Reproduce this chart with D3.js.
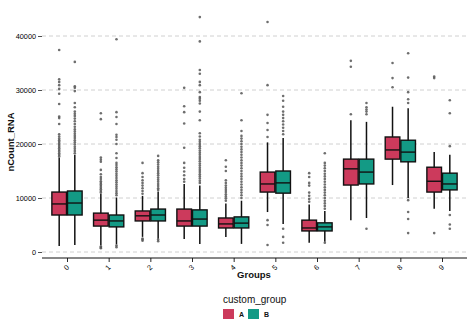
<!DOCTYPE html>
<html>
<head>
<meta charset="utf-8">
<script src="https://cdn.jsdelivr.net/npm/d3@7"></script>
<style>
body{margin:0;background:#fff}
svg{font-family:"Liberation Sans",Arial,sans-serif}
</style>
</head>
<body>
<div id="chart"></div>
<script>
// box stats
var groups = ["0","1","2","3","4","5","6","7","8","9"];
var series = ["A","B"];
var colors = ["#cc3a5c","#139a85"];
var yTicks = [0,10000,20000,30000,40000];

var q1A  = [6850,4800,5750,4800,4450,11100,3900,12400,17200,11100];
var medA = [8900,5900,6700,5750,5200,12600,4450,15400,18900,13100];
var q3A  = [11100,7200,7600,7950,6300,14800,5900,17200,21300,15700];
var loA  = [1100,1200,2800,2400,2800,7400,1700,5900,12400,8000];
var hiA  = [17500,10800,10400,12600,9000,20300,8800,24400,26900,18500];
var outA = [
  [37400,32000,31500,30900,30200,29300,27400,25100,24800,23700,21800,21400,21000,20700,20400,20100,19800,19500,19200,18900,18600,18300,18000,17700],
  [25700,24600,17500,17100,16700,15200,14400,13900,13500,13100,12800,12500,12200,11900,11600,11300,11000,1000,850,700],
  [16500,14600,13900,13300,12800,12300,11800,11300,10800,2500,2300,2100],
  [30400,27000,25900,23800,19300,16500,15600,14900,14200,13500,13000],
  [17000,15800,15000,13300,12800,12300,11900,11500,11100,10700,10300,9900,9500],
  [42600,30900,25400,23900,22600,21300,5900,5000,1300],
  [14600,13900,12800,12300,11000,10400,9800,9300],
  [35400,34300,25500],
  [35000,32200,30500],
  [32500,32200,3500]
];

var q1B  = [6850,4650,5750,4800,4450,10900,3900,12600,16700,11500];
var medB = [9070,5750,6850,6100,5350,12800,4650,14800,18500,12600];
var q3B  = [11300,6850,7950,7800,6500,15000,5400,17200,20700,14600];
var loB  = [1300,1400,2450,1500,1500,5200,1900,6300,10000,7600];
var hiB  = [18000,10100,11200,12300,9500,21100,7600,24100,26600,18000];
var outB = [
  [35200,30700,30400,29800,27600,26800,26000,25600,25200,24700,24200,23700,23200,22700,22300,21900,21500,21100,20700,20300,19900,19500,19100,18700,18300],
  [39400,25900,25000,23700,21700,21300,20800,20000,18300,17400,16500,16100,15700,15300,14900,14500,14100,13700,13300,12900,12500,12100,11700,11300,10900,10500,1200,900],
  [17800,17000,16600,16200,15800,15400,15000,14600,14200,13800,13400,13000,12600,12200,11800,11500,2300,2000],
  [43500,39000,33700,33000,31500,30900,29600,28700,28400,28000,27500,26000,24400,22000,21400,20800,20400,20000,19600,19200,18800,18400,18000,17600,17200,16800,16400,16000,15600,15200,14800,14400,14000,13600,13200,12800],
  [29400,24400,22400,21500,21000,20500,20000,19500,19000,18500,18000,17500,17000,16500,16000,15500,15000,14500,14000,13500,13000,12500,12000,11500,11000,10500,10000],
  [28900,28000,26900,26000,25400,24800,24200,23600,23000,22400,21800,4300,2800,1700],
  [18300,16500,16000,15500,15000,14500,14000,13500,13000,12500,12000,11500,11000,10500,10000,9500,9000,8500,8000,1700],
  [27600,26800,26400,26000,25500,4300],
  [36800,32300,29600,28300,27600,9600,7400,6100,3500],
  [28100,25700,19600,6850,5100,4300]
];

var stats = {
  A: {q1:q1A, med:medA, q3:q3A, lo:loA, hi:hiA, out:outA},
  B: {q1:q1B, med:medB, q3:q3B, lo:loB, hi:hiB, out:outB}
};

var W = 474, H = 331;
var mLeft = 42, mRight = 467, mTop = 36, mBottom = 252;

var svg = d3.select("#chart").append("svg")
  .attr("width", W).attr("height", H);

var x = d3.scalePoint().domain(groups).range([mLeft, mRight]).padding(0.6);
var boxW = x.step() * 0.75;
var xSub = d3.scaleBand().domain(series).range([-boxW/2, boxW/2]);
var y = d3.scaleLinear().domain([0, 40000]).range([mBottom, mTop]);
var color = d3.scaleOrdinal().domain(series).range(colors);

// grid
svg.append("g").selectAll("line").data(yTicks).enter().append("line")
  .attr("x1", mLeft).attr("x2", mRight)
  .attr("y1", d => y(d)).attr("y2", d => y(d))
  .attr("stroke", "#c4c4c4").attr("stroke-width", 0.8)
  .attr("stroke-dasharray", "4,3");

// y axis (no line)
var yAx = svg.append("g").attr("transform", "translate(" + mLeft + ",0)")
  .call(d3.axisLeft(y).tickValues(yTicks).tickSize(4).tickPadding(2).tickFormat(d3.format("d")));
yAx.select(".domain").remove();
yAx.selectAll("line").attr("stroke", "#222").attr("stroke-width", 0.8);
yAx.selectAll("text").attr("font-size", 7.3).attr("fill", "#000");

// x axis
var xAx = svg.append("g").attr("transform", "translate(0,258)")
  .call(d3.axisBottom(x).tickSize(4).tickSizeOuter(0));
xAx.select(".domain").attr("stroke", "#111").attr("stroke-width", 1)
  .attr("d", "M" + mLeft + ",0H" + mRight);
xAx.selectAll("line").attr("stroke", "#111").attr("stroke-width", 0.9);
xAx.selectAll("text")
  .attr("font-size", 7.3).attr("fill", "#000")
  .attr("y", 0).attr("dy", 0)
  .attr("text-anchor", "end")
  .attr("transform", "translate(2,10) rotate(-45)");

// boxes
var plot = svg.append("g");
series.forEach(function(s){
  var st = stats[s];
  groups.forEach(function(g, i){
    var cx = x(g) + xSub(s) + xSub.bandwidth()/2;
    var x0 = x(g) + xSub(s);
    var bw = xSub.bandwidth();
    var grp = plot.append("g");
    grp.append("line")
      .attr("x1", cx).attr("x2", cx)
      .attr("y1", y(st.lo[i])).attr("y2", y(st.hi[i]))
      .attr("stroke", "#111").attr("stroke-width", 1.5);
    grp.append("rect")
      .attr("x", x0 + 0.5).attr("width", bw - 1)
      .attr("y", y(st.q3[i])).attr("height", y(st.q1[i]) - y(st.q3[i]))
      .attr("fill", color(s)).attr("stroke", "#111").attr("stroke-width", 1.4);
    grp.append("line")
      .attr("x1", x0 + 0.5).attr("x2", x0 + bw - 0.5)
      .attr("y1", y(st.med[i])).attr("y2", y(st.med[i]))
      .attr("stroke", "#111").attr("stroke-width", 1.4);
    grp.selectAll("circle").data(st.out[i]).enter().append("circle")
      .attr("cx", cx).attr("cy", d => y(d)).attr("r", 1.3)
      .attr("fill", "#555").attr("fill-opacity", 0.85);
  });
});

// titles
svg.append("text").attr("x", 254).attr("y", 278)
  .attr("text-anchor", "middle").attr("font-size", 9.5).attr("font-weight", "bold")
  .attr("fill", "#111").text("Groups");
svg.append("text").attr("transform", "translate(14,142) rotate(-90)")
  .attr("text-anchor", "middle").attr("font-size", 9.5).attr("font-weight", "bold")
  .attr("fill", "#111").text("nCount_RNA");

// legend
var leg = svg.append("g");
leg.append("text").attr("x", 223).attr("y", 303)
  .attr("font-size", 10).attr("fill", "#111").text("custom_group");
series.forEach(function(s, i){
  var lx = 223 + i * 25;
  leg.append("rect").attr("x", lx).attr("y", 309).attr("width", 11).attr("height", 10)
    .attr("fill", color(s));
  leg.append("text").attr("x", lx + 16).attr("y", 317)
    .attr("font-size", 7).attr("font-weight", "bold").attr("fill", "#111").text(s);
});
</script>
</body>
</html>
